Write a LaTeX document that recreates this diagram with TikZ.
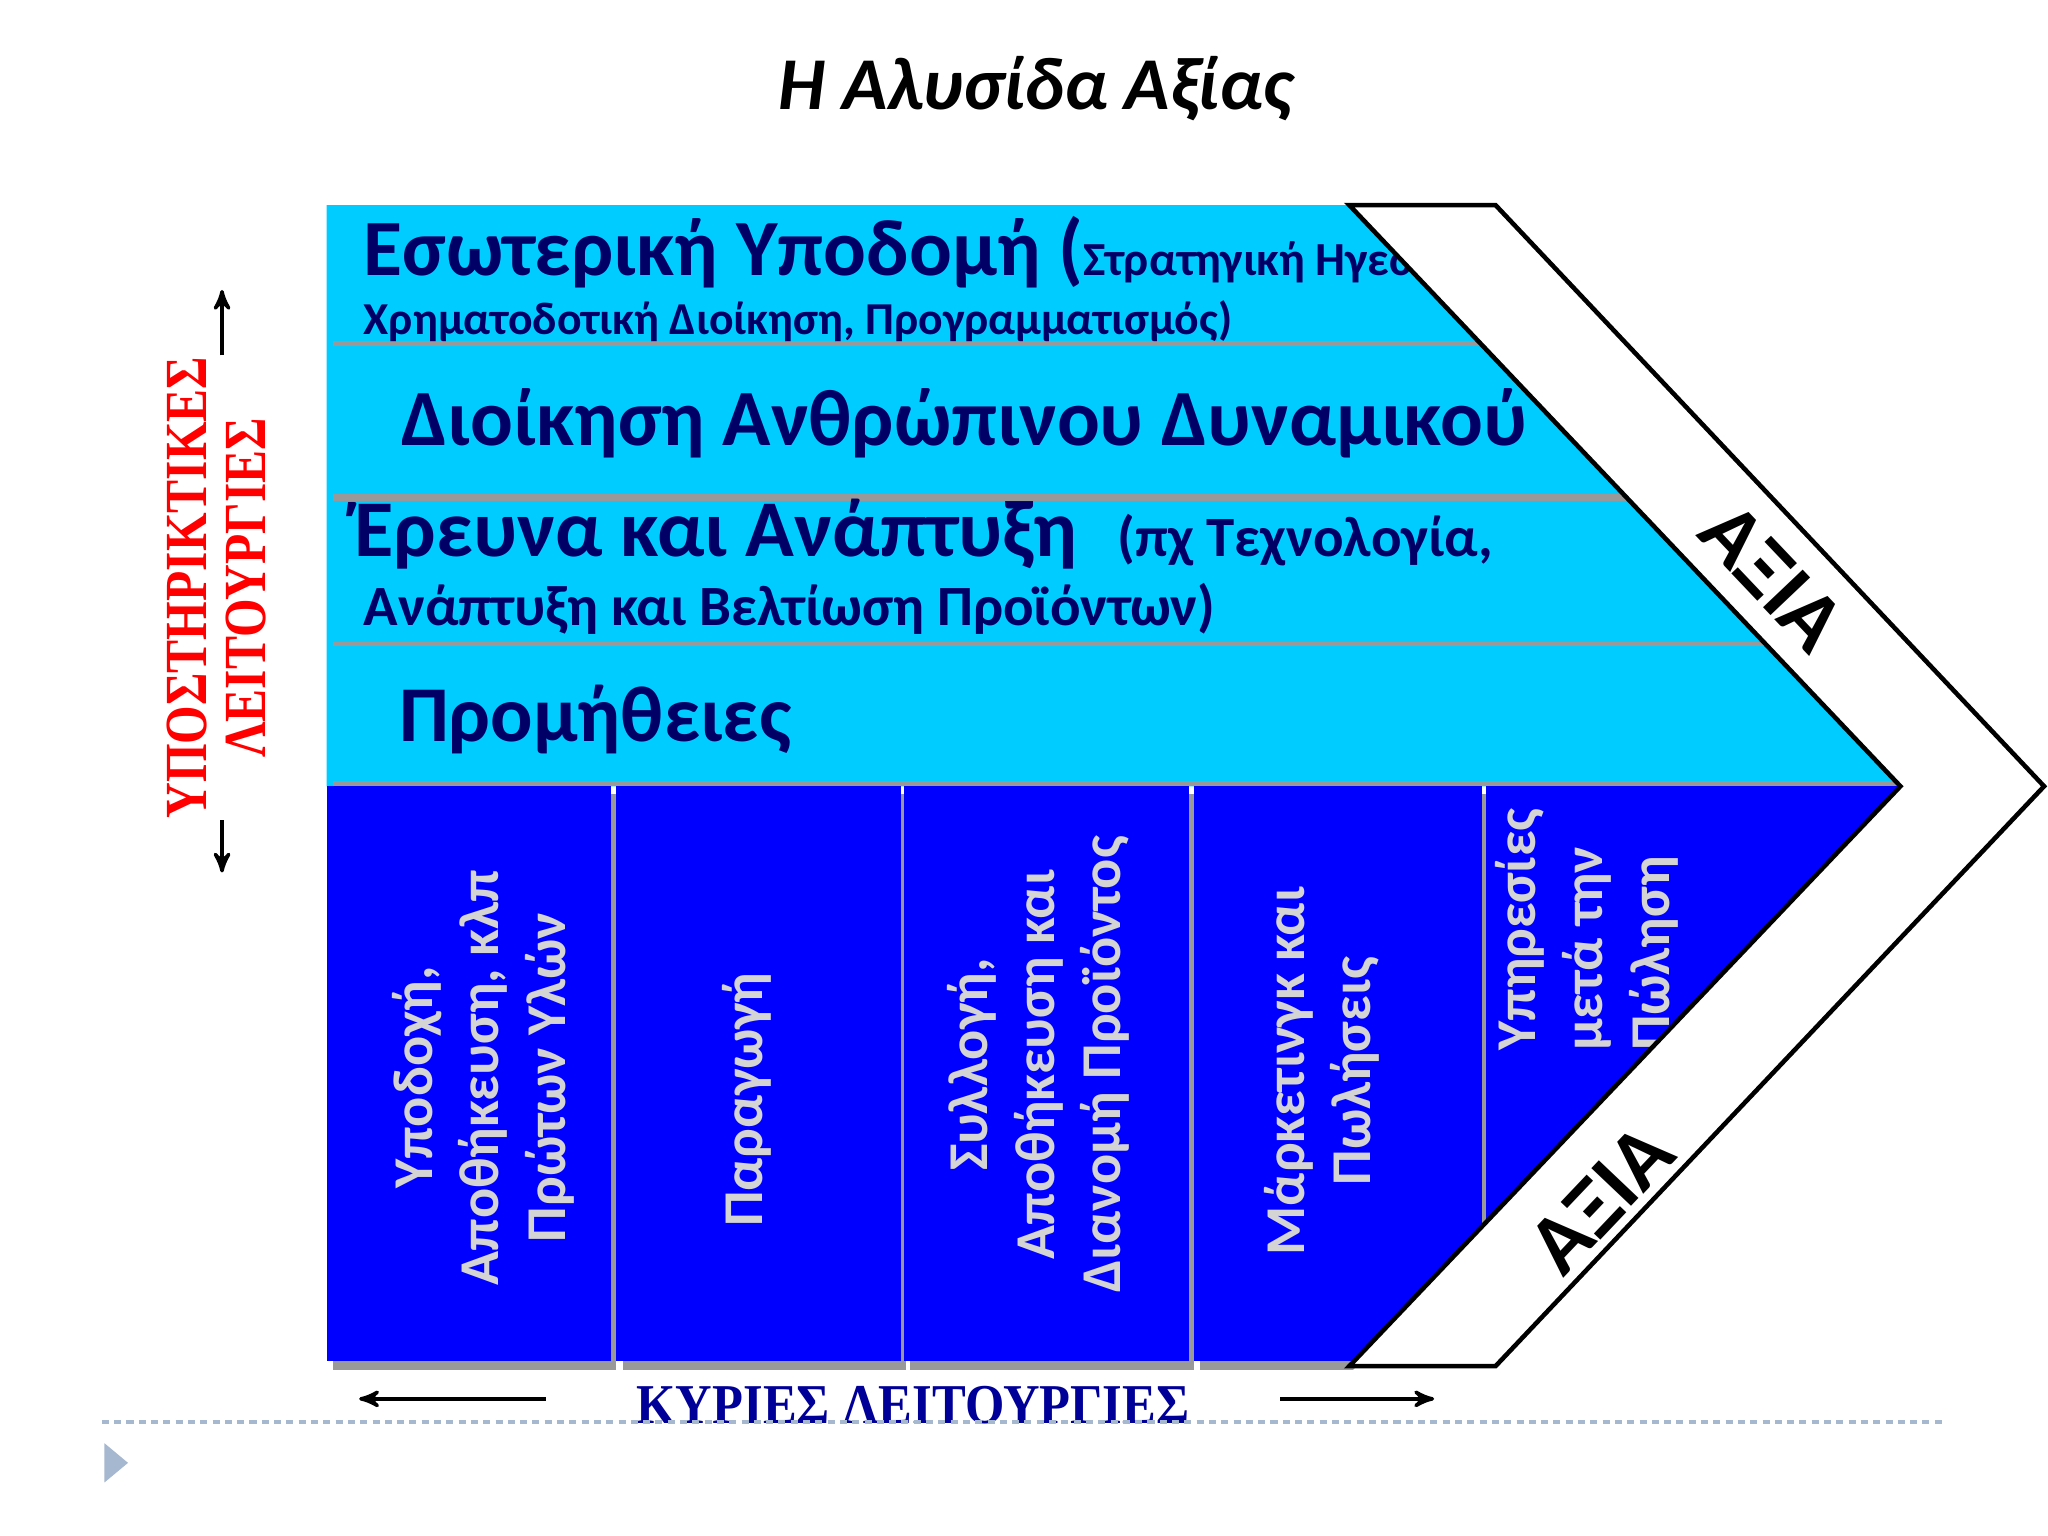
\documentclass[tikz,border=0pt]{standalone}
\usepackage{fontspec}
\setmainfont{Carlito}
\newfontfamily\serifgr{Liberation Serif}
\usetikzlibrary{arrows}
\usetikzlibrary{calc}
\tikzset{>=stealth'}
\definecolor{cyanrow}{HTML}{00CCFF}
\definecolor{bluecol}{HTML}{0000FF}
\definecolor{navytxt}{HTML}{000066}
\definecolor{colgray}{HTML}{999999}
\definecolor{coltext}{HTML}{D4D4D4}
\definecolor{redlab}{HTML}{FF0000}
\definecolor{darkblue}{HTML}{000099}
\definecolor{slide}{HTML}{A5B8D0}
\tikzset{rowtxt/.style={anchor=base west, inner sep=0pt, text=navytxt}}
\tikzset{coltxt/.style={rotate=90, align=center, inner sep=0pt, text=coltext,
    font=\bfseries\fontsize{16}{19}\selectfont}}
\tikzset{redtxt/.style={rotate=90, inner sep=0pt, text=redlab,
    font=\serifgr\bfseries\fontsize{17}{20}\selectfont}}
\tikzset{valtxt/.style={inner sep=0pt, font=\bfseries\fontsize{24}{28}\selectfont}}

\begin{document}
\begin{tikzpicture}[x=0.01306cm, y=-0.01306cm]
\fill[white] (0,0) rectangle (1568,1176);
\useasboundingbox (0,0) rectangle (1568,1176);

\node[font=\bfseries\itshape\fontsize{21.2}{25}\selectfont] (title) at (793,68) {Η Αλυσίδα Αξίας};

% support activities
\fill[cyanrow] (250,157) -- (1033,157) -- (1455,602) -- (250,602) -- cycle;
\foreach \y/\e/\w in {263/1140/1.2, 381/1252/2.2, 493/1358/1.2, 600/1458/1.6}
  \draw[colgray, line width=\w pt] (255,\y) -- (\e,\y);

\node[rowtxt, font=\bfseries] (infra) at (278,211)
  {{\fontsize{22.7}{26}\selectfont Εσωτερική Υποδομή (}{\fontsize{13.5}{16}\selectfont Στρατηγική Ηγεσία,}};
\node[rowtxt, font=\bfseries\fontsize{13}{16}\selectfont] (infra2) at (278,256)
  {Χρηματοδοτική Διοίκηση, Προγραμματισμός)};
\node[rowtxt, font=\bfseries\fontsize{22.7}{26}\selectfont] (hrm) at (307,341)
  {Διοίκηση Ανθρώπινου Δυναμικού};
\node[rowtxt, font=\bfseries\fontsize{22.9}{26}\selectfont] (rnd) at (271,426)
  {Έρευνα και Ανάπτυξη};
\node[rowtxt, font=\bfseries\fontsize{16.2}{19}\selectfont] (rnd1) at (855,426)
  {(πχ Τεχνολογία,};
\node[rowtxt, font=\bfseries\fontsize{16.2}{19}\selectfont] (rnd2) at (278,479)
  {Ανάπτυξη και Βελτίωση Προϊόντων)};
\node[rowtxt, font=\bfseries\fontsize{22.5}{26}\selectfont] (proc) at (305,568)
  {Προμήθειες};

% primary activities
\begin{scope}
\clip (245,596) -- (1459,596) -- (1033,1052) -- (245,1060) -- cycle;
\foreach \x/\w in {250/218, 472/218, 692/218, 914/221, 1138/330}{
  \fill[colgray] (\x+5,608) rectangle (\x+\w+4,1049);
  \fill[bluecol] (\x,602) rectangle (\x+\w,1042);
}
\end{scope}

\node[coltxt] (inlog) at (370,825) {Υποδοχή,\\Αποθήκευση, κλπ\\Πρώτων Υλών};
\node[coltxt] (ops) at (572,842) {Παραγωγή};
\node[coltxt] (outlog) at (795,815) {Συλλογή,\\Αποθήκευση και\\Διανομή Προϊόντος};
\node[coltxt] (mkt) at (1012,820) {Μάρκετινγκ και\\Πωλήσεις};
\node[coltxt, align=left, anchor=west] (serv) at (1215,805) {Υπηρεσίες\\μετά την\\Πώληση};

% value chevron
\draw[black, line width=1.3pt, fill=white] (1033,157) -- (1145,157) -- (1565,602)
  -- (1145,1046) -- (1033,1046) -- (1455,602) -- cycle;
\node[valtxt, rotate=-46.5] (valtop) at (1357,442) {ΑΞΙΑ};
\node[valtxt, rotate=46.5] (valbot) at (1226,918) {ΑΞΙΑ};

% side labels
\node[redtxt] (sup1) at (143,450) {\scalebox{0.83}[1]{ΥΠΟΣΤΗΡΙΚΤΙΚΕΣ}};
\node[redtxt] (sup2) at (188,450) {\scalebox{0.83}[1]{ΛΕΙΤΟΥΡΓΙΕΣ}};
\coordinate (upA) at (170,272);
\coordinate (upB) at (170,222);
\coordinate (dnA) at (170,628);
\coordinate (dnB) at (170,668);
\draw[->, line width=1pt] (upA) -- (upB);
\draw[->, line width=1pt] (dnA) -- (dnB);

\node[inner sep=0pt, text=darkblue, font=\serifgr\bfseries\fontsize{16}{19}\selectfont]
  (prim) at (699,1076) {\scalebox{0.9}[1]{ΚΥΡΙΕΣ ΛΕΙΤΟΥΡΓΙΕΣ}};
\coordinate (ltA) at (418,1071);
\coordinate (ltB) at (275,1071);
\coordinate (rtA) at (980,1071);
\coordinate (rtB) at (1098,1071);
\draw[->, line width=1pt] (ltA) -- (ltB);
\draw[->, line width=1pt] (rtA) -- (rtB);

% slide footer
\coordinate (dl) at (78,1089);
\coordinate (dr) at (1490,1089);
\draw[slide, line width=1.1pt, dash pattern=on 2pt off 1.5pt] (dl) -- (dr);
\fill[slide] (80,1105) -- (98,1120) -- (80,1135) -- cycle;
\end{tikzpicture}
\end{document}
